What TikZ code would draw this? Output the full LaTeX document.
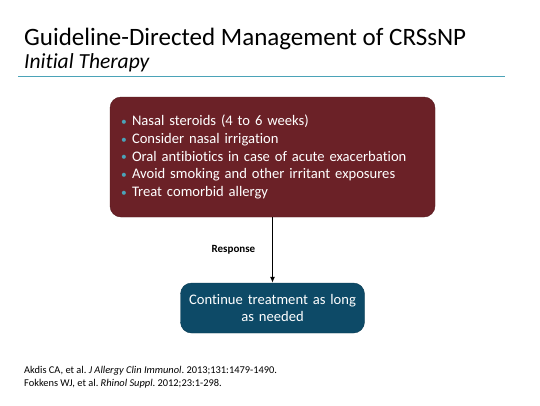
\documentclass[tikz,border=0pt]{standalone}
\usepackage{fontspec}
\setmainfont{Carlito}[Ligatures=NoCommon]
\frenchspacing
\usetikzlibrary{arrows.meta, positioning}
\definecolor{maroon}{HTML}{6B2127}
\definecolor{petrol}{HTML}{0D4A67}
\definecolor{rule}{HTML}{4BA3B8}
\newcommand{\blt}{\makebox[11pt][l]{\textcolor{rule}{\raisebox{0.3pt}{\fontsize{11.5}{12}\selectfont\textbullet}}}}

\begin{document}
\begin{tikzpicture}[x=1pt, y=-1pt,
      box/.style={rounded corners=11pt, text=white, inner sep=0pt,
        font=\fontsize{14.6}{17.7}\selectfont},
      arr/.style={-{Latex[length=6pt, width=5pt]}, line width=1.8pt, color=black},
      node distance=16pt]
    \useasboundingbox[fill=white] (0,0) rectangle (540,405);
    % heading
    \node[anchor=base west, inner sep=0pt, font=\fontsize{25}{28}\selectfont] (title) at (24,45)
      {Guideline-Directed Management of CRSsNP};
    \node[anchor=base west, inner sep=0pt, font=\fontsize{21.5}{24}\selectfont\itshape] (sub) at (24,68)
      {Initial Therapy};
    \draw[rule, line width=1pt] (18,76) -- (505,76);
    % flow
    \node[box, fill=maroon, draw=maroon!80!black, minimum width=325pt, minimum height=120pt,
      text width=303pt, align=left] (steps) at (272.5,157)
      {\blt Nasal steroids (4 to 6 weeks)\\
       \blt Consider nasal irrigation\\
       \blt Oral antibiotics in case of acute exacerbation\\
       \blt Avoid smoking and other irritant exposures\\
       \blt Treat comorbid allergy};
    \node[box, fill=petrol, draw=petrol!80!black, minimum width=184pt, minimum height=50pt,
      text width=176pt, align=center] (cont) at (272.5,308)
      {Continue treatment as long\\ as needed};
    \draw[arr] (steps.south) -- node[left=13pt, font=\fontsize{11}{13}\selectfont\bfseries] {Response} (cont.north);
    % references
    \node[anchor=base west, inner sep=0pt, align=left, font=\fontsize{10.4}{13}\selectfont] (refs) at (24,386)
      {Akdis CA, et al. \textit{J Allergy Clin Immunol}. 2013;131:1479-1490.\\
       Fokkens WJ, et al. \textit{Rhinol Suppl}. 2012;23:1-298.};
  \end{tikzpicture}
\end{document}
